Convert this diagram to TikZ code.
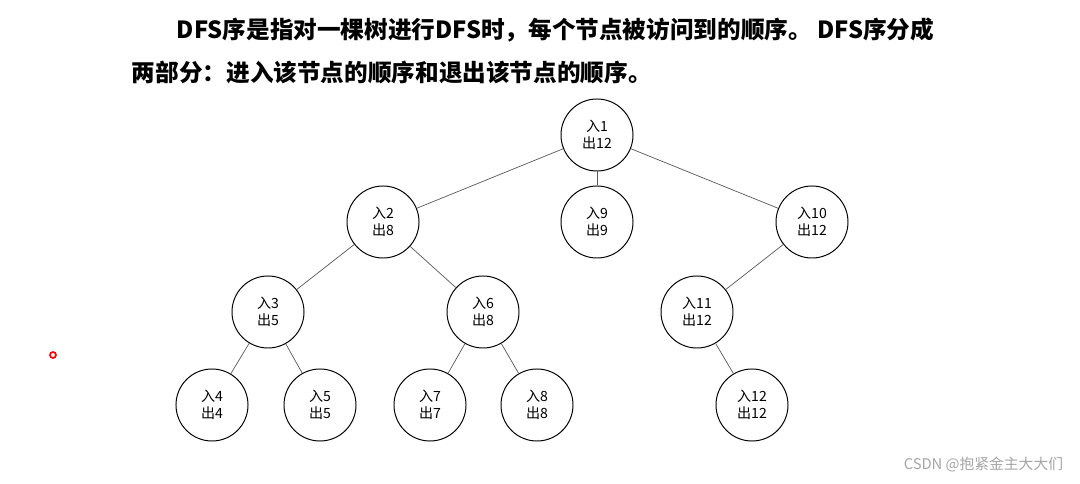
\documentclass[tikz,border=0pt]{standalone}
\usepackage{fontspec}
\newfontfamily\cjk{Noto Sans CJK SC}
\begin{document}
\begin{tikzpicture}[x=0.025cm,y=-0.025cm,
  tn/.style={draw,circle,line width=0.7pt,minimum size=1.8cm,inner sep=0pt,align=center,font=\cjk\fontsize{10}{12}\selectfont},
  edge/.style={draw,gray!70!black,line width=0.5pt}]
\useasboundingbox (0,0) rectangle (1080,484);
\fill[white] (0,0) rectangle (1080,484);
\node[anchor=west,font=\cjk\fontsize{16.8}{18}\selectfont\bfseries] (t1) at (172,30) {DFS序是指对一棵树进行DFS时，每个节点被访问到的顺序。 DFS序分成};
\node[anchor=west,font=\cjk\fontsize{16.8}{18}\selectfont\bfseries] (t2) at (127,72) {两部分：进入该节点的顺序和退出该节点的顺序。};
\node[tn] (n1) at (597,135) {入1\\出12};
\node[tn] (n2) at (383,222) {入2\\出8};
\node[tn] (n9) at (597,222) {入9\\出9};
\node[tn] (n10) at (812,222) {入10\\出12};
\node[tn] (n3) at (268,312) {入3\\出5};
\node[tn] (n6) at (483,312) {入6\\出8};
\node[tn] (n11) at (697,312) {入11\\出12};
\node[tn] (n4) at (212,405) {入4\\出4};
\node[tn] (n5) at (320,405) {入5\\出5};
\node[tn] (n7) at (430,405) {入7\\出7};
\node[tn] (n8) at (537,405) {入8\\出8};
\node[tn] (n12) at (752,405) {入12\\出12};
\foreach \a/\b in {n1/n2,n1/n9,n1/n10,n2/n3,n2/n6,n10/n11,n3/n4,n3/n5,n6/n7,n6/n8,n11/n12}
  \draw[edge] (\a) -- (\b);
\node[draw=red,line width=1.2pt,circle,inner sep=1.5pt] (dot) at (53,355) {};
\node[anchor=east,text=gray!70,font=\cjk\fontsize{10.5}{12}\selectfont] (wm) at (1068,465) {CSDN @抱紧金主大大们};
\end{tikzpicture}
\end{document}
